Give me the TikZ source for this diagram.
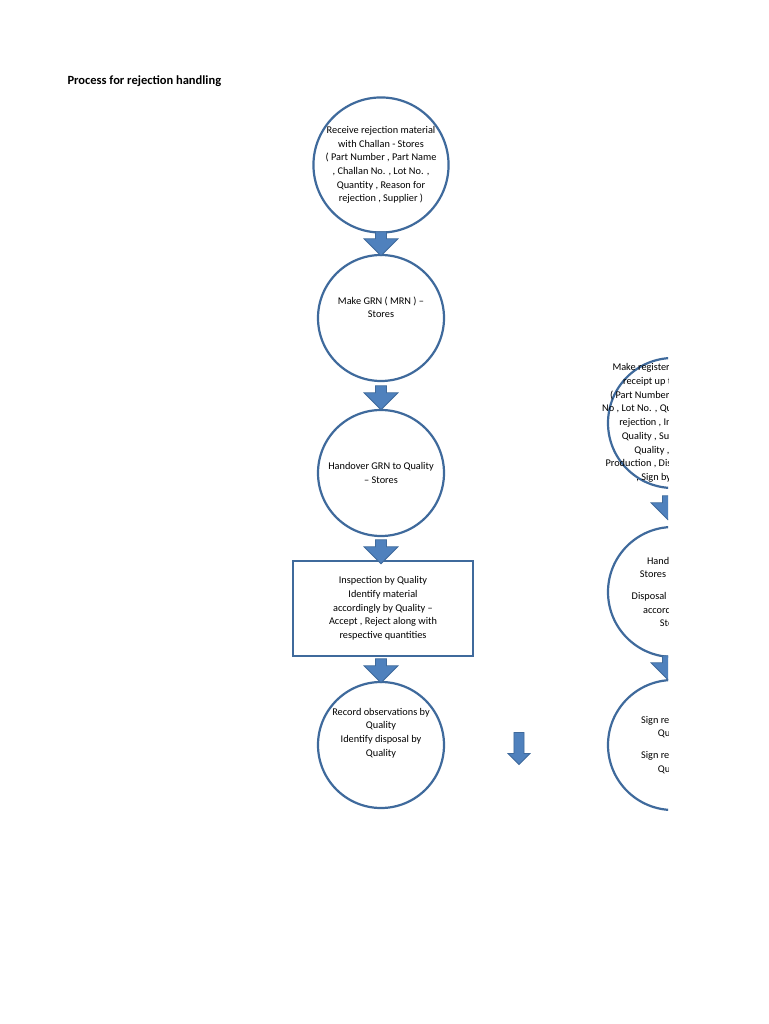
\documentclass[tikz,border=0pt]{standalone}
\usepackage{fontspec}
\setmainfont{Carlito}
\usetikzlibrary{shapes.arrows}
\definecolor{edge}{HTML}{3F6A9C}
\definecolor{afill}{HTML}{4F81BD}
\begin{document}
\begin{tikzpicture}[x=1pt,y=-1pt,
  circ/.style={circle,draw=edge,line width=2.2pt,minimum size=126pt,inner sep=0pt,align=center,font=\fontsize{10.3}{13.7}\selectfont},
  rectbox/.style={rectangle,draw=edge,line width=2pt,minimum width=180pt,minimum height=95pt,align=center,font=\fontsize{10.3}{13.7}\selectfont},
  blockarrow/.style={single arrow,shape border rotate=270,fill=afill,draw=edge,line width=0.8pt,minimum width=34pt,single arrow head extend=7pt,single arrow tip angle=90,minimum height=24pt,inner sep=3pt}]
\useasboundingbox (0,0) rectangle (768,1024);
\fill[white] (0,0) rectangle (768,1024);
\node[anchor=west,font=\bfseries\fontsize{12.5}{15}\selectfont] (title) at (64,81) {Process for rejection handling};
\node[circ] (c1) at (381,165) {Receive rejection material\\with Challan - Stores\\( Part Number , Part Name\\, Challan No. , Lot No. ,\\Quantity , Reason for\\rejection , Supplier )};
\node[circ] (c2) at (381,318) {Make GRN ( MRN ) --\\Stores\\[8pt]};
\node[circ] (c3) at (381,473) {Handover GRN to Quality\\-- Stores};
\node[rectbox] (r4) at (383,608.5) {Inspection by Quality\\Identify material\\accordingly by Quality --\\Accept , Reject along with\\respective quantities};
\node[circ] (c5) at (381,745) {Record observations by\\Quality\\Identify disposal by\\Quality\\[12pt]};
\node[blockarrow] (a1) at (381,241) {};
\node[blockarrow] (a2) at (381,395) {};
\node[blockarrow] (a3) at (381,549) {};
\node[blockarrow] (a4) at (381,668) {};
\node[blockarrow,minimum width=22pt,minimum height=32pt,single arrow head extend=4pt] (a5) at (519,746) {};
\begin{scope}
\clip (0,0) rectangle (668,1024);
\node[circ,minimum size=130pt] (d1) at (673,423) {};
\node[font=\fontsize{10.3}{13.7}\selectfont,align=center] (t1) at (668,423) {Make register for rejection\\receipt up to disposal\\( Part Number , Part Name ,\\No , Lot No. , Quantity , Reason\\rejection , Inspected by\\Quality , Suggested by\\Quality , Sign by\\Production , Disposal , Sign by\\, Sign by Stores};
\node[circ,minimum size=130pt] (d2) at (673,592) {Handover to\\Stores -- Quality\\[8pt]Disposal to be done\\accordingly by\\Stores};
\node[circ,minimum size=130pt] (d3) at (673,745) {Sign register by\\Quality\\[8pt]Sign register by\\Quality};
\node[blockarrow] (b1) at (668,505) {};
\node[blockarrow] (b2) at (668,665) {};
\end{scope}
\end{tikzpicture}
\end{document}
